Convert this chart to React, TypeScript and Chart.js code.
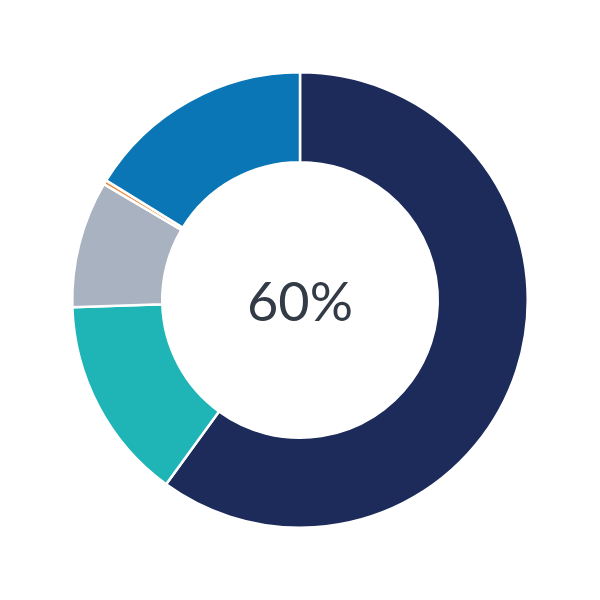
import React, { useEffect, useRef } from "react";
import { Chart, registerables } from "chart.js";

Chart.register(...registerables);

const labels = ["Navy", "Teal", "Gray", "Orange", "Blue"];
const values = [60, 14.5, 9.0, 0.3, 16.2];
const colors = ["#1d2b5b", "#1fb5b6", "#a9b2c0", "#f0893a", "#0a76b6"];
const centerLabel = "60%";

export default function App() {
  const ref = useRef<HTMLCanvasElement | null>(null);
  useEffect(() => {
    if (!ref.current) return;
    const chart = new Chart(ref.current, {
      type: "doughnut",
      data: {
        labels,
        datasets: [
          {
            data: values,
            backgroundColor: colors,
            borderColor: "#ffffff",
            borderWidth: 2.5,
          },
        ],
      },
      options: {
        responsive: false,
        animation: false,
        cutout: "60.5%",
        layout: { padding: 63 },
        plugins: { legend: { display: false }, tooltip: { enabled: false } },
      },
    });
    return () => chart.destroy();
  }, []);
  return (
    <div style={{ position: "relative", width: 584, height: 584 }}>
      <canvas ref={ref} width={584} height={584} />
      <div
        style={{
          position: "absolute",
          left: 0,
          top: 0,
          width: 584,
          height: 584,
          display: "flex",
          alignItems: "center",
          justifyContent: "center",
          fontFamily: "Lato, sans-serif",
          fontWeight: 400,
          fontSize: 54,
          color: "#333b46",
          pointerEvents: "none",
        }}
      >
        {centerLabel}
      </div>
    </div>
  );
}
